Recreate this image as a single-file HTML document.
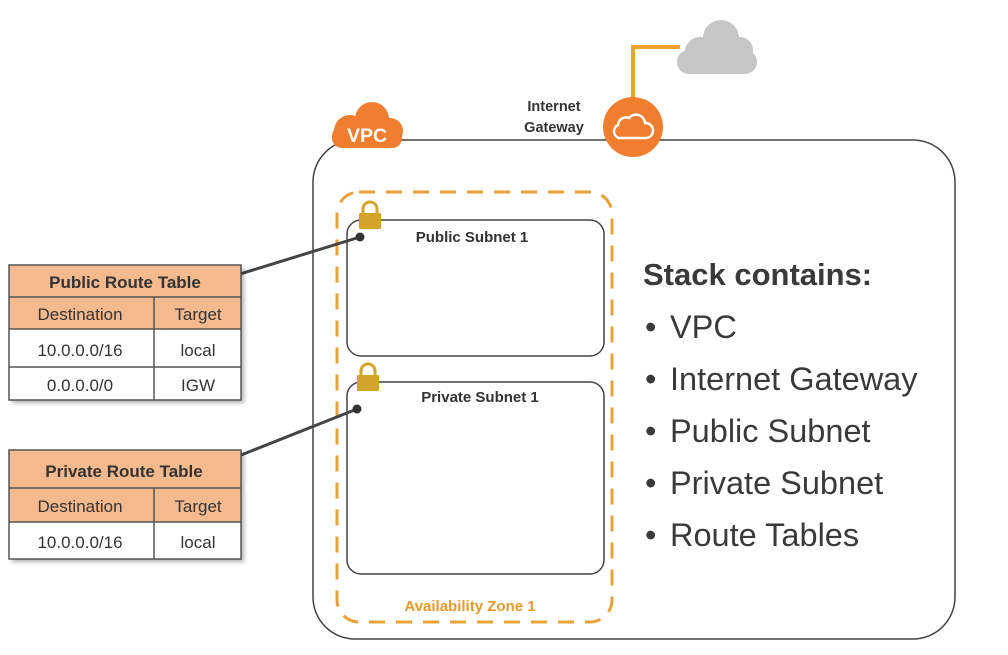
<!DOCTYPE html>
<html><head><meta charset="utf-8"><style>
html,body{margin:0;padding:0;background:#fff;}
svg{display:block;font-family:"Liberation Sans",Arial,sans-serif;}
</style></head><body>
<svg width="1008" height="655" viewBox="0 0 1008 655" xmlns="http://www.w3.org/2000/svg">
<defs>
<filter id="sh" x="-10%" y="-10%" width="130%" height="130%"><feDropShadow dx="3" dy="3" stdDeviation="2" flood-color="#000" flood-opacity="0.3"/></filter>
</defs>
<rect x="313" y="140" width="642" height="499" rx="42" fill="none" stroke="#444" stroke-width="1.5"/>
<rect x="337" y="192" width="275" height="430" rx="22" fill="none" stroke="#e8a23a" stroke-width="3" stroke-dasharray="16,11"/>
<text x="470" y="611" font-size="15" font-weight="bold" fill="#e89a2a" text-anchor="middle">Availability Zone 1</text>
<rect x="347" y="220" width="257" height="136" rx="14" fill="#fff" stroke="#444" stroke-width="1.5"/>
<text x="472" y="242" font-size="15" font-weight="bold" fill="#333" text-anchor="middle">Public Subnet 1</text>
<rect x="347" y="382" width="257" height="192" rx="14" fill="#fff" stroke="#444" stroke-width="1.5"/>
<text x="480" y="402" font-size="15" font-weight="bold" fill="#333" text-anchor="middle">Private Subnet 1</text>
<g fill="#d4a42a">
<path d="M363 214 v-5 a7 7 0 0 1 14 0 v5" fill="none" stroke="#d4a42a" stroke-width="3"/>
<rect x="359" y="213" width="22" height="16" rx="1"/>
<path d="M361 376 v-5 a7 7 0 0 1 14 0 v5" fill="none" stroke="#d4a42a" stroke-width="3"/>
<rect x="357" y="375" width="22" height="16" rx="1"/>
</g>
<line x1="227" y1="278" x2="360" y2="237" stroke="#444" stroke-width="3"/>
<circle cx="360" cy="237" r="4.5" fill="#333"/><circle cx="227" cy="278" r="4.5" fill="#333"/>
<line x1="231" y1="459" x2="357" y2="409" stroke="#444" stroke-width="3"/>
<circle cx="357" cy="409" r="4.5" fill="#333"/><circle cx="231" cy="459" r="4.5" fill="#333"/>
<g fill="#f07e2e">
<circle cx="350" cy="131" r="16"/><circle cx="372" cy="119" r="17"/><circle cx="390" cy="131" r="13"/>
<rect x="332" y="126" width="70" height="22" rx="10"/>
</g>
<text x="367" y="142" font-size="19" font-weight="bold" fill="#fff" text-anchor="middle" textLength="40" lengthAdjust="spacingAndGlyphs">VPC</text>
<path d="M633 100 V47 H680" fill="none" stroke="#f0a030" stroke-width="4"/>
<g fill="#c6c6c6">
<circle cx="700" cy="52" r="15"/><circle cx="721" cy="38" r="18"/><circle cx="740" cy="50" r="13"/>
<rect x="677" y="50" width="80" height="24" rx="12"/>
</g>
<circle cx="633" cy="127" r="30" fill="#f07e2e"/>
<path d="M619 138 a7 7 0 0 1 -1 -13 a8 8 0 0 1 11 -7 a9 9 0 0 1 16 5 a7 7 0 0 1 1 15 z" fill="none" stroke="#fff" stroke-width="2.5"/>
<text x="554" y="111" font-size="14.5" font-weight="bold" fill="#333" text-anchor="middle">Internet</text>
<text x="554" y="132" font-size="14.5" font-weight="bold" fill="#333" text-anchor="middle">Gateway</text>
<text x="643" y="285" font-size="31" font-weight="bold" fill="#3a3a3a">Stack contains:</text>
<g font-size="32.5" fill="#3a3a3a">
<text x="645" y="338">•</text><text x="670" y="338">VPC</text>
<text x="645" y="390">•</text><text x="670" y="390">Internet Gateway</text>
<text x="645" y="442">•</text><text x="670" y="442">Public Subnet</text>
<text x="645" y="494">•</text><text x="670" y="494">Private Subnet</text>
<text x="645" y="546">•</text><text x="670" y="546">Route Tables</text>
</g>
<g filter="url(#sh)"><rect x="9" y="265" width="232" height="135" fill="#fff"/></g>
<rect x="9" y="265" width="232" height="64" fill="#f5b98e"/>
<g fill="none" stroke="#555" stroke-width="1.5">
<rect x="9" y="265" width="232" height="135"/>
<line x1="9" y1="297" x2="241" y2="297"/><line x1="9" y1="329" x2="241" y2="329"/><line x1="9" y1="367" x2="241" y2="367"/>
<line x1="154" y1="297" x2="154" y2="400"/>
</g>
<g font-size="17" fill="#333" text-anchor="middle">
<text x="125" y="288" font-weight="bold">Public Route Table</text>
<text x="80" y="320">Destination</text><text x="198" y="320">Target</text>
<text x="80" y="356">10.0.0.0/16</text><text x="198" y="356">local</text>
<text x="80" y="391">0.0.0.0/0</text><text x="198" y="391">IGW</text>
</g>
<g filter="url(#sh)"><rect x="9" y="450" width="232" height="109" fill="#fff"/></g>
<rect x="9" y="450" width="232" height="72" fill="#f5b98e"/>
<g fill="none" stroke="#555" stroke-width="1.5">
<rect x="9" y="450" width="232" height="109"/>
<line x1="9" y1="488" x2="241" y2="488"/><line x1="9" y1="522" x2="241" y2="522"/>
<line x1="154" y1="488" x2="154" y2="559"/>
</g>
<g font-size="17" fill="#333" text-anchor="middle">
<text x="124" y="477" font-weight="bold">Private Route Table</text>
<text x="80" y="512">Destination</text><text x="198" y="512">Target</text>
<text x="80" y="548">10.0.0.0/16</text><text x="198" y="548">local</text>
</g>
</svg>
</body></html>
